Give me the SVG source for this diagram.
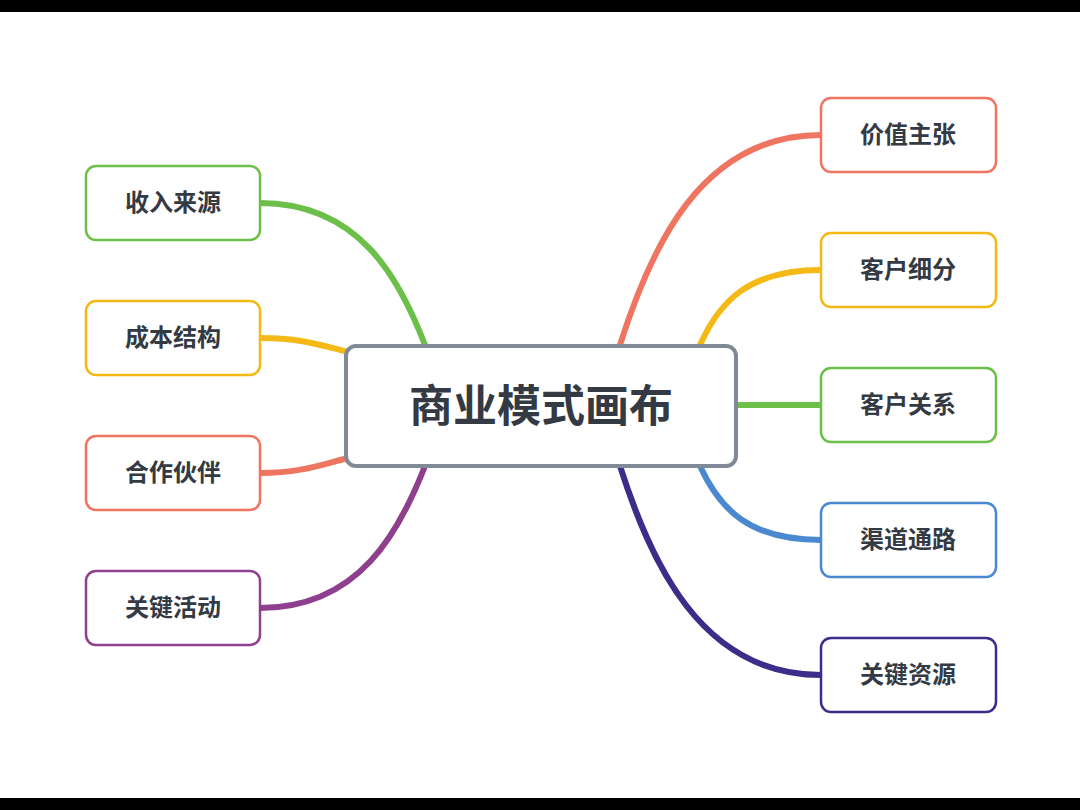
<svg xmlns="http://www.w3.org/2000/svg" width="1080" height="810" viewBox="0 0 1080 810">
<style>
.n{fill:#fff;stroke-width:2.5}
.t{font-family:"Noto Sans CJK SC",sans-serif;font-weight:bold;font-size:24px;fill:#333a44;text-anchor:middle;dominant-baseline:central}
.c{fill:none;stroke-width:6;stroke-linecap:round}
</style>
<rect width="1080" height="810" fill="#fff"/>
<rect width="1080" height="12" fill="#000"/>
<rect y="798" width="1080" height="12" fill="#000"/>
<g id="connectors">
<path class="c" stroke="#6cc04a" d="M260,203 C360,203 400,280 425,345"/>
<path class="c" stroke="#f5b915" d="M260,338 C300,338 320,345 348,352"/>
<path class="c" stroke="#f07560" d="M260,473 C300,473 320,465 348,458"/>
<path class="c" stroke="#8e3f8e" d="M260,608 C360,608 400,530 425,466"/>
<path class="c" stroke="#f07560" d="M821,135 C700,135 650,250 620,345"/>
<path class="c" stroke="#f5b915" d="M821,270 C750,270 720,300 700,345"/>
<path class="c" stroke="#6cc04a" d="M821,405 L736,405"/>
<path class="c" stroke="#4a88d0" d="M821,540 C750,540 720,510 700,466"/>
<path class="c" stroke="#3a2e8a" d="M821,675 C700,675 650,560 620,466"/>
</g>
<g id="center"><rect x="346" y="346" width="390" height="120" rx="10" fill="#fff" stroke="#7f8a96" stroke-width="4"/><text class="t" x="541" y="403" style="font-size:44px">商业模式画布</text></g>
<g id="n1"><rect class="n" x="86" y="166" width="174" height="74" rx="10" stroke="#6cc04a"/><text class="t" x="173" y="200">收入来源</text></g>
<g id="n2"><rect class="n" x="86" y="301" width="174" height="74" rx="10" stroke="#f5b915"/><text class="t" x="173" y="335">成本结构</text></g>
<g id="n3"><rect class="n" x="86" y="436" width="174" height="74" rx="10" stroke="#f07560"/><text class="t" x="173" y="470">合作伙伴</text></g>
<g id="n4"><rect class="n" x="86" y="571" width="174" height="74" rx="10" stroke="#8e3f8e"/><text class="t" x="173" y="605">关键活动</text></g>
<g id="n5"><rect class="n" x="821" y="98" width="175" height="74" rx="10" stroke="#f07560"/><text class="t" x="908" y="132">价值主张</text></g>
<g id="n6"><rect class="n" x="821" y="233" width="175" height="74" rx="10" stroke="#f5b915"/><text class="t" x="908" y="267">客户细分</text></g>
<g id="n7"><rect class="n" x="821" y="368" width="175" height="74" rx="10" stroke="#6cc04a"/><text class="t" x="908" y="402">客户关系</text></g>
<g id="n8"><rect class="n" x="821" y="503" width="175" height="74" rx="10" stroke="#4a88d0"/><text class="t" x="908" y="537">渠道通路</text></g>
<g id="n9"><rect class="n" x="821" y="638" width="175" height="74" rx="10" stroke="#3a2e8a"/><text class="t" x="908" y="672">关键资源</text></g>
</svg>
